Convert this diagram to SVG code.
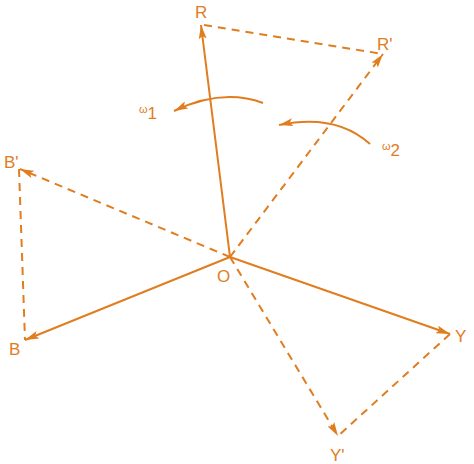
<svg xmlns="http://www.w3.org/2000/svg" width="474" height="464" viewBox="0 0 474 464">
<style>
.s{stroke:#E07D1E;stroke-width:2;fill:none}
.d{stroke:#E07D1E;stroke-width:2;fill:none;stroke-dasharray:8 6}
text{font-family:"Liberation Sans",Arial,sans-serif;font-size:17px;fill:#E07D1E}
.w{font-size:11px}
</style>
<defs>
<marker id="a" viewBox="0 0 14 8" refX="14" refY="4" markerWidth="14" markerHeight="8" markerUnits="userSpaceOnUse" orient="auto">
<path d="M0,0 L14,4 L0,8 L3,4 Z" fill="#E07D1E"/>
</marker>
</defs>
<rect width="474" height="464" fill="#fff"/>
<g id="connectors">
<line class="s" x1="230" y1="257" x2="201" y2="25" marker-end="url(#a)"/>
<line class="d" x1="230" y1="257" x2="383" y2="54" marker-end="url(#a)"/>
<line class="d" x1="230" y1="257" x2="20" y2="169" marker-end="url(#a)"/>
<line class="s" x1="230" y1="257" x2="25" y2="340" marker-end="url(#a)"/>
<line class="s" x1="230" y1="257" x2="450" y2="334" marker-end="url(#a)"/>
<line class="d" x1="230" y1="257" x2="338" y2="436" marker-end="url(#a)"/>
<line class="d" x1="204" y1="25" x2="383" y2="54"/>
<line class="d" x1="19" y1="169" x2="25" y2="340"/>
<line class="d" x1="450" y1="334" x2="338" y2="436"/>
<path class="s" d="M263,103 Q222,88 174,111" marker-end="url(#a)"/>
<path class="s" d="M370,144 Q336,113 279,125" marker-end="url(#a)"/>
</g>
<g id="O"><text x="217" y="282">O</text></g>
<g id="R"><text x="195" y="18">R</text></g>
<g id="Rp"><text x="377" y="50">R'</text></g>
<g id="Bp"><text x="4" y="168">B'</text></g>
<g id="B"><text x="9" y="355">B</text></g>
<g id="Y"><text x="455" y="342">Y</text></g>
<g id="Yp"><text x="330" y="461">Y'</text></g>
<g id="w1"><text x="139" y="119"><tspan class="w" dy="-6">ω</tspan><tspan dy="6">1</tspan></text></g>
<g id="w2"><text x="382" y="156"><tspan class="w" dy="-6">ω</tspan><tspan dy="6">2</tspan></text></g>
</svg>
